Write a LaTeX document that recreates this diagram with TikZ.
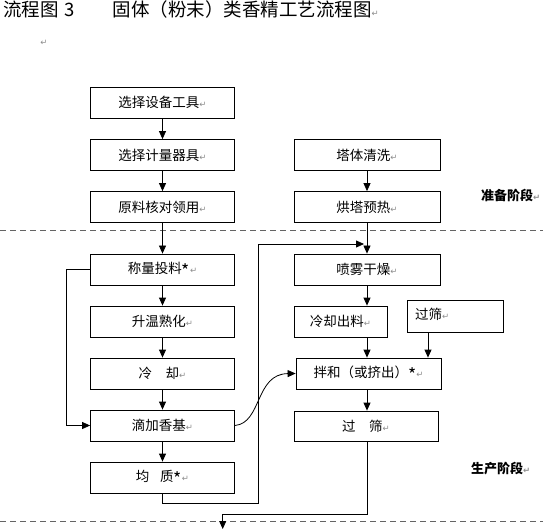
\documentclass[tikz,border=0pt]{standalone}
\usepackage{fontspec}
\setmainfont{Noto Sans CJK SC}
\newfontfamily\retfont{DejaVu Sans}
\usetikzlibrary{arrows.meta}
\definecolor{retgray}{RGB}{140,140,140}
\definecolor{sepgray}{RGB}{100,100,100}
\newcommand{\ret}{{\retfont\fontsize{8.5}{8.5}\selectfont\textcolor{retgray}{↵}}}
\newcommand{\mystar}{\raisebox{-0.55ex}{\scalebox{1.3}{*}}}
\begin{document}
\begin{tikzpicture}[x=1pt,y=-1pt,
  box/.style={draw, line width=0.8pt, minimum height=31pt, inner sep=0pt, font=\fontsize{13.5}{14}\selectfont},
  arr/.style={-{Triangle[width=7pt,length=8pt]}, line width=0.8pt},
  sep/.style={draw=sepgray, dash pattern=on 6pt off 4pt, line width=0.8pt},
  stage/.style={font=\fontsize{13}{14}\selectfont\bfseries, anchor=west, inner sep=0pt},
  ttl/.style={anchor=west, inner sep=0pt, font=\fontsize{18.5}{18.5}\selectfont}]
\useasboundingbox (0,0) rectangle (543,529);
% title
\node[ttl] (t1) at (3,9.5) {流程图\hspace{0.3em}3};
\node[ttl] (t2) at (112.5,9.5) {固体（粉末）类香精工艺流程图\ret};
\node[inner sep=0pt] (pm) at (44,43) {\ret};
% separators
\draw[sep] (0,230.5) -- (543,230.5);
\draw[sep] (0,521) -- (543,521);
% left column
\node[box, minimum width=144pt] (b1) at (162.5,102.5) {选择设备工具\ret};
\node[box, minimum width=144pt] (b2) at (162.5,155) {选择计量器具\ret};
\node[box, minimum width=144pt] (b3) at (162.5,207) {原料核对领用\ret};
\node[box, minimum width=144pt] (b4) at (162.5,269.5) {称量投料\mystar\ret};
\node[box, minimum width=144pt] (b5) at (162.5,321.5) {升温熟化\ret};
\node[box, minimum width=144pt] (b6) at (162.5,373.5) {冷\hspace{1em}却\ret};
\node[box, minimum width=144pt] (b7) at (162.5,425.5) {滴加香基\ret};
\node[box, minimum width=144pt] (b8) at (162.5,477.5) {均\hspace{0.8em}质\mystar\ret};
% right column
\node[box, minimum width=146pt] (r1) at (367,155) {塔体清洗\ret};
\node[box, minimum width=146pt] (r2) at (367,207) {烘塔预热\ret};
\node[box, minimum width=146pt] (r3) at (367,269.5) {喷雾干燥\ret};
\node[box, minimum width=93pt] (r4) at (340.5,321.5) {冷却出料\ret};
\node[box, minimum width=96pt, minimum height=32pt] (r5) at (455,316) {};
\node[anchor=west, inner sep=0pt, font=\fontsize{13.5}{14}\selectfont] (r5t) at (415,314) {过筛\ret};
\node[box, minimum width=145pt] (r6) at (368.5,373.5) {拌和（或挤出）\mystar\ret};
\node[box, minimum width=144pt, minimum height=30pt] (r7) at (366,426) {过\hspace{1em}筛\ret};
% stage labels
\node[stage] (s1) at (481,195) {准备阶段\ret};
\node[stage] (s2) at (471,469) {生产阶段\ret};
% coordinates
\coordinate (j1) at (258,244);
\coordinate (j2) at (364,244);
\coordinate (out) at (222.7,529);
% connectors left
\draw[arr] (b1.south) -- (b2.north);
\draw[arr] (b2.south) -- (b3.north);
\draw[arr] (b3.south) -- (b4.north);
\draw[arr] (b4.south) -- (b5.north);
\draw[arr] (b5.south) -- (b6.north);
\draw[arr] (b6.south) -- (b7.north);
\draw[arr] (b7.south) -- (b8.north);
\draw[arr] (b4.west) -- ++(-24,0) |- (b7.west);
\draw[arr] (b7.east) .. controls (262,423) and (255,374) .. (r6.west);
\draw[arr] (b8.south) -- ++(0,10) -| (j1) -- (j2);
% connectors right
\draw[arr] (r1.south) -- (r2.north);
\draw[arr] (r2.south) -- (r3.north);
\draw[arr] (r3.south) -- (r3.south |- r4.north);
\draw[arr] (r3.south |- r4.south) -- (r3.south |- r6.north);
\draw[arr] ([xshift=-27pt]r5.south) -- ([xshift=-27pt]r5.south |- r6.north);
\draw[arr] (r3.south |- r6.south) -- (r3.south |- r7.north);
\draw[arr] (r3.south |- r7.south) -- ++(0,73) -| (out);
\end{tikzpicture}
\end{document}
